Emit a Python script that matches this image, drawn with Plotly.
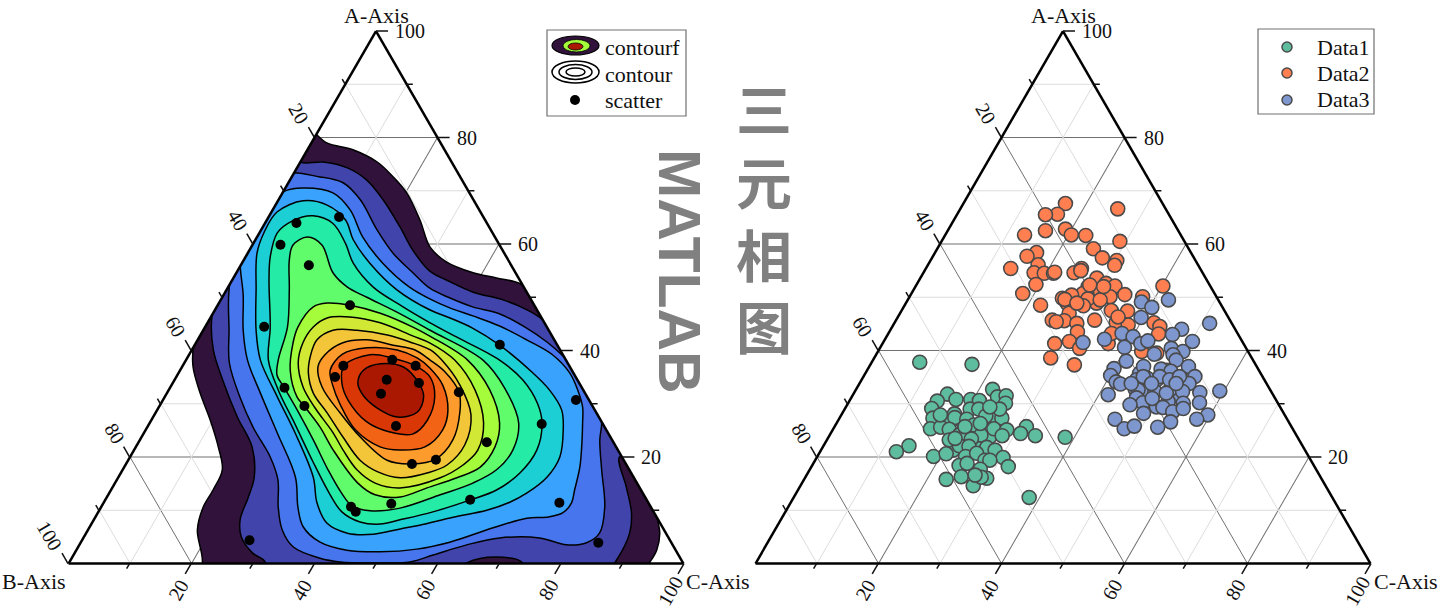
import plotly.graph_objects as go

FONT = "Liberation Serif"
W, H = 1440, 613

tick_major = [20, 40, 60, 80, 100]
tick_minor = [10, 30, 50, 70, 90]

level_colors = ["#30123b", "#4145ab", "#4675ed", "#39a2fc", "#1bcfd4", "#24eca6", "#61fc6c",
                "#a4fc3b", "#d1e834", "#f3c63a", "#fe9b2d", "#f36315", "#d93806", "#aa1801"]

lv00_a = [82,79.0,77.7,75.4,72.6,69.6,64.5,59.4,56.6,54.6,53.6,52.3,45,30,14,8.5,5.7,2.5,0.1,-3,-3,0.1,6.3,10.6,13.8,17.6,21.9,26.9,32.0,36.9,40.7,60]
lv00_c = [-3,2.5,7.4,12.5,16.5,20.2,24.9,29.1,33.2,38.5,42.8,47.7,57,72,88,91.5,93.3,94.4,94.4,94,22,21.7,17.8,16.6,16.6,16.2,13.4,9.6,5.4,1.8,0,-3]
lv01_a = [78,75.4,75.4,74.3,72.0,68.3,63.2,58.9,54.9,53.2,51.0,49.5,48.0,45.7,35,20,20.0,14.4,9.5,5.7,0.7,-3,-3,0.1,1.2,0.1,-3,-3,0.3,2,5,8.2,12.5,16.2,21.9,27.5,34.5,40.1,46.7,60]
lv01_c = [-3,0,3.7,8.2,12.5,17.0,22.3,26.5,31.3,34.9,40.2,45.9,49.9,54.3,67,82,79.6,83.5,86.8,88.4,88.8,88,75,73.8,69.0,64.7,63,33,31.8,28.9,25.6,23.8,23.0,22.1,18.9,13.7,7.8,3.5,0,-3]
lv02_a = [72.9,72.6,71.5,68.3,62.6,58.3,54.6,51.7,49.9,48.2,46.9,44.2,41.6,39.2,32,26.4,23.2,17.6,10.6,5.7,3.9,3.5,4.8,4.8,3.5,1.6,0.3,0.1,0.3,1,3.1,6.3,10.6,15.7,20,25.6,31.3,37.7,43.8,51.4,62]
lv02_c = [-1.5,4.6,8.9,13.3,18.9,23.6,28.7,32.9,37.0,41.6,46.6,52.4,57.0,60.6,70,73.5,74.8,77.9,81.9,83.5,82.3,79.2,74.2,67.7,63.0,58.5,55.4,49.0,44.0,40.4,35.0,31.6,28.8,26.2,22.8,17.2,12.2,7.3,4.2,0.4,-3]
lv03_a = [69.8,70.5,69.6,66.4,61.3,56.4,51.9,49.7,48,46.5,44.6,42,39.2,35.8,32.6,29.4,26.4,21.9,18.1,13.8,11.4,9.5,8.7,8.5,6.7,4,2.7,2.2,2.5,4,6.9,10.6,16.2,24.5,32,38.2,43.8,50.4,56.6,63]
lv03_c = [0,2.9,8.2,12.6,17.2,22.9,29.5,33.9,38.0,42.5,47.8,53.5,59.1,63.6,66.5,68.9,70.4,72.5,74.1,75.4,76.1,75.6,73.4,70.3,65.7,60.0,55.3,49.6,44.0,38.9,34.7,32.0,28.8,21.7,15.2,10.0,6.5,3.2,-0.4,-3]
lv04_a = [43.8,51.4,58.3,62.3,66,68.1,67.3,64.5,60.8,56.4,51.4,47.6,46.1,44.2,41,36,32.6,28.8,25.1,20,16.2,13.2,11.5,10,8.7,7.2,6.5,5.5,5.7,7.6,11.4,16.2,24.5,31.3,38.2]
lv04_c = [8.6,4.8,1.5,0.7,0.9,4.1,8.4,12.8,15.9,20.8,27.7,35.0,39.0,43.6,49.6,57.3,61.9,65.8,67.9,69.9,69.7,67.9,66.0,63.0,58.2,53.5,50.7,46.8,42.5,38.2,34.7,31.7,24.6,18.3,12.1]
lv05_a = [44.4,53.2,57.6,62.1,64.3,65.3,63.9,60.2,56.4,51.9,48.2,45.2,42.5,38.2,34.5,30.1,26.4,21.3,17,13.8,11.9,9.7,8.2,7.4,7.8,9.7,12.9,19.1,26,32.6,38.2]
lv05_c = [10.6,6.0,4.0,2.9,4.2,7.1,11.0,14.9,18.1,23.6,30.3,36.2,41.9,51.0,56.6,61.2,63.8,65.5,64.9,62.7,59.3,54.4,49.8,47.0,43.5,39.6,36.1,30.2,23.9,17.8,13.4]
lv06_a = [44.4,51.4,57,59.8,61.3,59.8,54.6,51.9,50,47.2,43.8,38.2,33,26.4,21.3,17.6,15.1,12.9,10.4,9.9,10.8,13.4,17.6,23.2,28.8,33,35.4,38.2]
lv06_c = [13.4,10.2,7.4,6.6,8.2,11.3,15.7,19.4,23.5,29.8,36.9,48.3,54.4,60.0,61.6,60.8,58.2,54.0,48.7,44.1,40.7,37.6,33.4,28.2,22.8,18.6,16.2,15.0]
lv07_a = [44.4,48.2,48.9,48.5,47,44.4,42.7,38.2,32.6,26.4,21.9,18.1,16.1,14.2,12.5,12.9,15.1,21.3,25.6,29.6,31.3,36.3,41.4]
lv07_c = [15.1,15.7,17.6,21.5,27.2,33.8,37.4,45.8,52.2,56.9,58.4,57.9,55.1,51.2,47.7,43.4,39.5,32.4,28.1,23.5,21.5,17.9,15.8]
lv08_a = [44.4,46.1,46.3,45.2,42.7,41.4,38.2,32.6,26.4,21.3,18.5,16.1,14.2,15.1,17.6,21.3,24.5,29.2,33.1,37.7,41.4]
lv08_c = [17.6,19.0,22.6,28.1,34.7,38.1,43.7,49.8,54.3,55.9,54.9,52.4,46.8,42.3,38.1,34.0,30.8,25.5,21.6,18.5,17.4]
lv09_a = [42,43.8,43.8,42.9,41.6,40.1,38.2,33.5,27.9,22.3,18.5,17,16.1,17.2,19.4,23.8,28.3,32,35.8,38.8]
lv09_c = [19.4,21.1,25.0,30.4,34.7,38.8,41.6,46.9,51.5,53.3,52.3,49.8,45.9,41.7,37.7,32.7,27.9,23.8,21.1,19.9]
lv10_a = [36.9,39.2,41.4,42,41,40.1,38.2,36,32.2,28.5,23.2,19.6,18.7,19.4,23.8,28.3,33.1]
lv10_c = [22.1,22.1,23.8,27.5,32.3,36.3,39.7,43.2,47.4,49.4,50.9,49.9,46.5,42.1,35.5,30.0,24.7]
lv11_a = [36.3,39.3,40.5,40.1,38.6,36.7,33.5,28.8,25.1,21.9,21.3,21.9,25.1,29.8,33.5]
lv11_c = [24.4,24.9,28.3,33.4,37.4,40.4,44.1,47.3,48.3,47.0,43.2,39.7,34.1,29.3,26.2]
lv12_a = [37.1,39.2,38.6,37.1,35,31.3,26.9,24.3,24.7,26.6,30.7,33.9]
lv12_c = [26.2,29.4,33.3,37.9,41.3,43.9,44.9,43.8,39.9,35.2,30.1,27.5]
lv13_a = [33.9,31.3,28.4,27.5,29.2,31.6,33.9,36.3,37.5,36.9]
lv13_c = [40.0,42.1,42.5,39.7,35.6,32.1,30.1,29.8,32.0,36.0]
levels = [(lv00_a, lv00_c), (lv01_a, lv01_c), (lv02_a, lv02_c), (lv03_a, lv03_c), (lv04_a, lv04_c),
          (lv05_a, lv05_c), (lv06_a, lv06_c), (lv07_a, lv07_c), (lv08_a, lv08_c), (lv09_a, lv09_c),
          (lv10_a, lv10_c), (lv11_a, lv11_c), (lv12_a, lv12_c), (lv13_a, lv13_c)]

dots_a = [65.07,63.94,59.87,56.0,48.49,44.47,33.01,29.58,37.14,35.02,38.27,37.14,33.9,34.52,31.89,25.82,18.69,19.49,11.23,10.67,9.73,4.36,41.09,30.7,26.2,32.15,22.76,11.98,11.42,3.91]
dots_c = [11.46,5.09,4.53,11.08,21.53,9.58,18.61,23.57,26.12,25.83,33.51,37.88,40.03,34.48,34.87,40.34,46.5,50.0,46.87,40.6,41.84,27.25,49.59,67.17,63.85,47.4,56.64,59.32,74.11,84.2]

data1_a = [27,27,22.6,23.2,23.8,21.3,27,37.8,37.4,32.7,31.8,30.5,29.1,30.8,30.8,30.6,31.3,31.5,30.1,29.0,29.0,28.1,27.4,27.3,27.1,27.7,27.3,29.0,25.3,25.6,25.2,26.0,25.3,25.1,24.0,25.7,24.4,24.0,23.7,24.2,24.1,23.4,23.2,22.1,21.0,22.1,22.0,21.8,21.3,20.1,20.6,20.1,20.7,19.4,19.9,19.4,18.4,18.2,17.7,18.8,15.8,16.3,14.6,16.0,16.2,16.6,12.4,25.7,23.5,26.3,27.9,29.4]
data1_c = [19.8,17.6,25.2,22.2,26.2,21.5,25.2,7.8,16.5,22.2,15.3,14.3,14.1,17.2,19.6,21.1,23.7,25.0,25.6,20.4,21.8,18.3,18.7,15.2,20.8,23.6,26.4,25.2,15.8,17.3,18.9,22.5,26.1,28.3,28.1,31.2,30.9,33.5,38.5,21.1,24.6,23.4,19.9,13.9,12.4,22.1,23.7,26.7,28.3,18.9,20.7,24.1,25.6,27.6,30.3,28.4,23.9,32.0,27.7,25.0,23.1,25.3,28.1,29.6,28.6,27.4,38.3,21.2,20.7,23.4,16.1,23.4]
data2_a = [48.9,48.9,67.6,65.6,65.5,66.6,62.5,62.8,61.7,61.6,61.7,60.5,59.1,57.4,56.9,56.0,58.4,57.7,56.1,55.4,54.6,54.5,54.5,54.7,54.6,55.4,55.0,52.4,53.6,50.7,52.0,52.6,52.1,50.5,51.0,50.1,50.7,50.4,49.8,49.6,49.7,49.5,48.5,48.4,47.5,47.0,47.4,45.7,45.6,45.4,45.7,45.3,45.1,44.8,45.2,44.5,43.1,43.5,41.3,41.7,40.4,41.3,43.2,50.1,52.1,38.6,37.3,39.8,39.5,46.3,52.0,52.3,48.9]
data2_c = [31.0,26.2,16.6,16.3,14.4,25.6,15.9,19.0,20.5,22.9,12.9,29.0,25.4,27.7,30.3,30.4,16.5,15.3,17.9,13.8,18.0,19.7,21.2,21.3,24.5,25.3,25.4,19.4,28.7,18.1,28.1,30.7,32.4,34.8,30.6,32.6,27.9,26.2,25.0,25.5,29.2,31.3,22.1,29.1,34.1,27.5,36.8,25.4,27.4,26.2,32.3,36.0,29.7,38.2,42.2,43.5,44.0,30.6,28.0,30.2,32.5,36.7,36.3,37.9,40.2,28.7,33.2,42.9,45.5,35.8,30.6,28.2,27.8]
data3_a = [36.3,32.6,31.3,34.5,34.5,29.4,35.7,49.1,48.1,49.5,46.2,45.1,44.0,43.0,41.7,41.5,42.1,43.2,42.6,41.3,41.8,40.6,40.4,39.8,39.3,39.2,38.0,38.2,36.6,37.0,36.5,36.1,37.0,35.3,35.1,34.1,33.7,33.8,34.5,34.8,32.7,32.6,32.3,32.7,32.3,32.1,32.4,31.7,31.1,30.2,29.8,31.0,30.4,29.3,30.1,30.2,28.5,29.1,28.2,27.1,27.9,27.1,26.6,25.3,25.8,25.6,35.1,34.5,35.1,35.1,33.8,33.8,32.0,33.8]
data3_c = [48.7,47.3,53.3,48.0,52.8,50.5,44.6,38.2,40.4,42.4,39.6,51.3,47.3,46.3,50.2,32.5,35.7,38.0,40.1,42.0,42.9,39.7,47.4,49.6,45.2,48.3,41.3,49.3,40.0,44.6,47.7,49.5,51.9,40.1,53.9,41.6,42.5,53.6,44.7,46.3,45.4,45.9,48.8,51.1,53.3,56.2,59.3,41.5,46.4,47.9,46.0,49.0,51.9,51.6,54.5,57.1,53.6,55.0,49.0,44.9,59.6,58.2,54.2,47.3,48.7,52.6,48.2,50.1,51.4,45.5,44.2,47.5,50.8,51.5]
series_names = ["Data1", "Data2", "Data3"]
series_colors = ["#5fbd9f", "#ff7f50", "#7e97cf"]
EDGE = "#4a4a4a"

legend_left_labels = ["contourf", "contour", "scatter"]
side_title = "三<br>元<br>相<br>图"

fig = go.Figure()
LEFT = dict(bx0=68, bx1=684, name="ternary")
RIGHT = dict(bx0=755, bx1=1371, name="ternary2")
TOP, BOT = 31.0, 563.5
SIDE = 616.0
HEIGHT = BOT - TOP


def px(x):
    return x / W


def py(y):
    return 1 - y / H


def grid_trace(sub, values, color, width):
    a, b, c = [], [], []
    for v in values:
        a += [v, v, None, 100 - v, 0, None, 100 - v, 0, None]
        b += [100 - v, 0, None, v, v, None, 0, 100 - v, None]
        c += [0, 100 - v, None, 0, 100 - v, None, v, v, None]
    fig.add_trace(go.Scatterternary(subplot=sub, a=a, b=b, c=c, mode="lines", showlegend=False,
                                    line=dict(color=color, width=width), hoverinfo="skip"))


for panel in (LEFT, RIGHT):
    grid_trace(panel["name"], tick_minor, "#dcdcdc", 1)

for (la, lc), col in zip(levels, level_colors):
    a = list(la) + [la[0]]
    c = list(lc) + [lc[0]]
    b = [100 - p - q for p, q in zip(a, c)]
    fig.add_trace(go.Scatterternary(subplot="ternary", a=a, b=b, c=c, mode="lines", fill="toself", fillcolor=col,
                                    line=dict(color="#000000", width=1.5, shape="spline", smoothing=1),
                                    showlegend=False, hoverinfo="skip"))

fig.add_trace(go.Scatterternary(subplot="ternary", a=dots_a, c=dots_c, b=[100 - p - q for p, q in zip(dots_a, dots_c)],
                                mode="markers", marker=dict(color="#000000", size=10), showlegend=False, hoverinfo="skip"))

for name, col, sa, sc in zip(series_names, series_colors, (data1_a, data2_a, data3_a), (data1_c, data2_c, data3_c)):
    fig.add_trace(go.Scatterternary(subplot="ternary2", a=sa, c=sc, b=[100 - p - q for p, q in zip(sa, sc)], name=name,
                                    mode="markers", showlegend=False, hoverinfo="skip",
                                    marker=dict(color=col, size=14, line=dict(color=EDGE, width=1.6))))


def axis_style():
    return dict(tick0=0, dtick=20, ticks="", showticklabels=False, showgrid=True, gridcolor="#707070", gridwidth=1.2,
                linecolor="#000000", linewidth=2.5, min=0, title=dict(text=""))


def ternary_layout(panel):
    return dict(sum=100, bgcolor="rgba(0,0,0,0)",
                domain=dict(x=[px(panel["bx0"]), px(panel["bx1"])], y=[py(BOT), py(TOP)]),
                aaxis=axis_style(), baxis=axis_style(), caxis=axis_style())


annotations = []
shapes = []


def note(text, x, y, size=20, angle=0, xanchor="center", color="#111111", family=FONT):
    annotations.append(dict(text=text, x=px(x), y=py(y), xref="paper", yref="paper", showarrow=False,
                            textangle=angle, xanchor=xanchor, yanchor="middle",
                            font=dict(family=family, size=size, color=color)))


def seg(x0, y0, x1, y1):
    shapes.append(dict(type="line", xref="paper", yref="paper", x0=px(x0), y0=py(y0), x1=px(x1), y1=py(y1),
                       line=dict(color="#111111", width=1.5), layer="above"))


def edge_points(x0, v):
    # pixel positions of value v on the A (right), B (left) and C (bottom) edges
    return ((x0 + SIDE * (1 - v / 200), BOT - HEIGHT * v / 100),
            (x0 + SIDE * (100 - v) / 200, BOT - HEIGHT * (100 - v) / 100),
            (x0 + SIDE * v / 100, BOT))


for panel in (LEFT, RIGHT):
    x0 = panel["bx0"]
    for vals, L in ((tick_major, 12), (tick_minor, 6)):
        for v in vals:
            ra, rb, rc = edge_points(x0, v)
            seg(ra[0], ra[1], ra[0] + L, ra[1])
            if panel is LEFT or v < 100:
                seg(rb[0], rb[1], rb[0] - L * 0.5, rb[1] - L * 0.866)
            seg(rc[0], rc[1], rc[0] - L * 0.5, rc[1] + L * 0.866)
    for v in tick_major:
        ra, rb, rc = edge_points(x0, v)
        note(str(v), ra[0] + 17, ra[1], xanchor="left")
        dx, dy = (-14, 27) if v == 100 else (-13, 26)
        note(str(v), rc[0] + dx, rc[1] + dy, angle=-60)
        if panel is LEFT or v < 100:
            dx, dy = (-18, -28) if v == 100 else (-15, -24)
            note(str(v), rb[0] + dx, rb[1] + dy, angle=60)

note("A-Axis", 376, 15, size=22)
note("A-Axis", 1063, 15, size=22)
note("B-Axis", 34, 581, size=22)
note("C-Axis", 718, 581, size=22)
note("C-Axis", 1406, 581, size=22)

for lab, yy in zip(legend_left_labels, (48, 75, 101)):
    note(lab, 603, yy, size=22, xanchor="left")
for lab, yy in zip(series_names, (47, 73, 100)):
    note(lab, 1315, yy, size=22, xanchor="left")

note("<b>MATLAB</b>", 679, 271, size=59, angle=90, color="#808080", family="Liberation Sans")
note("<b>" + side_title + "</b>", 764, 215, size=56, color="#808080", family="Noto Sans CJK SC")


def ell(x0, y0, x1, y1, fill, line="#000000", lw=1.2):
    return dict(type="circle", xref="paper", yref="paper", x0=px(x0), x1=px(x1), y0=py(y0), y1=py(y1),
                fillcolor=fill, line=dict(color=line, width=lw), layer="above")


def box(x0, y0, x1, y1):
    return dict(type="rect", xref="paper", yref="paper", x0=px(x0), x1=px(x1), y0=py(y0), y1=py(y1),
                fillcolor="#ffffff", line=dict(color="#707070", width=1.2), layer="above")


shapes += [box(547, 30, 686, 116), box(1258, 29, 1374, 114)]
shapes += [ell(552, 36, 599, 55, "#30123b"), ell(563, 39.5, 590, 52, "#a4fc3b", lw=0.8), ell(568, 43, 583, 50, "#aa1801", lw=0.8)]
shapes += [ell(552, 61, 599, 83, "#ffffff", lw=1.5), ell(559, 64.5, 592, 79.5, "#ffffff", lw=1.5), ell(566, 68, 585, 76, "#ffffff", lw=1.5)]
shapes += [ell(570, 95, 580, 105, "#000000", lw=0)]
for col, yy in zip(series_colors, (47, 73, 100)):
    shapes.append(ell(1282, yy - 5, 1292, yy + 5, col, line=EDGE, lw=1.5))

fig.update_layout(width=W, height=H, margin=dict(l=0, r=0, t=0, b=0), autosize=False,
                  paper_bgcolor="#ffffff", plot_bgcolor="#ffffff", showlegend=False,
                  ternary=ternary_layout(LEFT), ternary2=ternary_layout(RIGHT),
                  annotations=annotations, shapes=shapes)

fig.write_html("out.html", config={"displayModeBar": False},
               post_script="document.body.style.margin='0';document.body.style.overflow='hidden';")
